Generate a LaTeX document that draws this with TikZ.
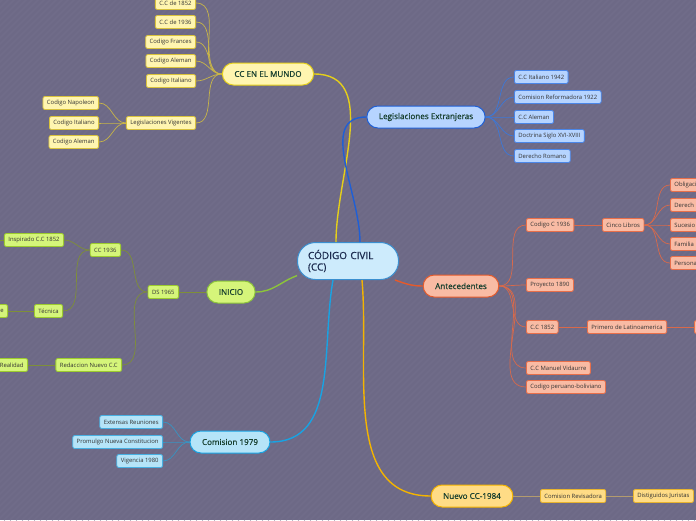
\documentclass[tikz,border=0pt]{standalone}
\usepackage{fontspec}
\setmainfont{Open Sans}
\newfontfamily\branchfont[FakeBold=0.6]{Open Sans}
\usetikzlibrary{positioning}

\definecolor{bg}{HTML}{6D6986}
\definecolor{bgline}{HTML}{706C89}
\definecolor{maintext}{HTML}{173F2E}
\definecolor{leaftext}{HTML}{333333}
\definecolor{rootFill}{HTML}{CDEBFC}
\definecolor{rootDraw}{HTML}{3A8FD0}
\definecolor{rootText}{HTML}{1B2A4E}
% branch colours
\definecolor{yTrunk}{HTML}{E5CF1A}\definecolor{yLine}{HTML}{C8B548}
\definecolor{yFill}{HTML}{FFF5B0}\definecolor{yDraw}{HTML}{D9C23C}
\definecolor{bTrunk}{HTML}{1E5FD6}\definecolor{bLine}{HTML}{3C78D8}
\definecolor{bFill}{HTML}{B6D4FF}\definecolor{bDraw}{HTML}{4A86E8}
\definecolor{oTrunk}{HTML}{E55A2B}\definecolor{oLine}{HTML}{D9694A}
\definecolor{oFill}{HTML}{F9BBA4}\definecolor{oDraw}{HTML}{E86F4A}
\definecolor{gTrunk}{HTML}{8CC43A}\definecolor{gLine}{HTML}{7E8F38}
\definecolor{gFill}{HTML}{D5F57A}\definecolor{gDraw}{HTML}{9CCB2E}
\definecolor{cTrunk}{HTML}{18A3E3}\definecolor{cLine}{HTML}{3894C2}
\definecolor{cFill}{HTML}{B5E4F8}\definecolor{cDraw}{HTML}{48B0E2}
\definecolor{kTrunk}{HTML}{F4B400}\definecolor{kLine}{HTML}{B39B6E}
\definecolor{kFill}{HTML}{FFDC86}\definecolor{kDraw}{HTML}{E8B42E}

\begin{document}
\begin{tikzpicture}[x=1pt,y=-1pt,
  leaf/.style={draw, rounded corners=2pt, line width=0.8pt, inner xsep=4pt, inner ysep=0pt,
    minimum height=13pt, text=leaftext, font=\fontsize{5.9}{6}\selectfont},
  branch/.style={draw, rounded corners=11pt, line width=1pt, inner xsep=12pt, inner ysep=0pt,
    minimum height=22pt, text=maintext, font=\branchfont\fontsize{8.1}{9}\selectfont},
  trunk/.style={line width=1.4pt},
  twig/.style={line width=0.7pt},
  cut/.style={text width=#1, align=left},
  rcut/.style={text width=#1, align=right}]

\path[use as bounding box, fill=bg] (0,0) rectangle (696,520);
\clip (0,0) rectangle (696,520);
\foreach \i in {-560,-554,...,700}
  \draw[bgline, line width=1.5pt] (\i,520) -- ++(540,-540);

% centre
\node (cc) [draw=rootDraw, fill=rootFill, rounded corners=18pt, line width=1pt,
  minimum width=101pt, minimum height=37pt, text width=80pt, align=left, text=rootText,
  font=\branchfont\fontsize{10}{11.5}\selectfont] at (348,261) {CÓDIGO CIVIL\\(CC)};

% CC EN EL MUNDO
\node (mundo) [branch, fill=yFill, draw=yTrunk] at (268,74) {CC EN EL MUNDO};
\node (m1) [leaf, fill=yFill, draw=yDraw, anchor=east] at (196,3) {C.C de 1852};
\node (m2) [leaf, fill=yFill, draw=yDraw, anchor=east] at (196,22) {C.C de 1936};
\node (m3) [leaf, fill=yFill, draw=yDraw, anchor=east] at (196,42) {Codigo Frances};
\node (m4) [leaf, fill=yFill, draw=yDraw, anchor=east] at (196,61) {Codigo Aleman};
\node (m5) [leaf, fill=yFill, draw=yDraw, anchor=east] at (196,81) {Codigo Italiano};
\node (lv) [leaf, fill=yFill, draw=yDraw, anchor=east] at (196,123) {Legislaciones Vigentes};
\node (lv1) [leaf, fill=yFill, draw=yDraw, anchor=east] at (99,103) {Codigo Napoleon};
\node (lv2) [leaf, fill=yFill, draw=yDraw, anchor=east] at (99,123) {Codigo Italiano};
\node (lv3) [leaf, fill=yFill, draw=yDraw, anchor=east] at (99,142) {Codigo Aleman};

\draw[trunk, yTrunk] ([xshift=-12pt]cc.north) to[out=90,in=0] (mundo.east);
\foreach \n in {m1,m2,m3,m4,m5,lv}
  \draw[twig, yLine] (mundo.west) to[out=180,in=0] (\n.east);
\foreach \n in {lv1,lv2,lv3}
  \draw[twig, yLine] (lv.west) to[out=180,in=0] (\n.east);

% Legislaciones Extranjeras
\node (ext) [branch, fill=bFill, draw=bTrunk] at (426,117) {Legislaciones Extranjeras};
\node (e1) [leaf, fill=bFill, draw=bDraw, anchor=west] at (514,77) {C.C Italiano 1942};
\node (e2) [leaf, fill=bFill, draw=bDraw, anchor=west] at (514,97) {Comision Reformadora 1922};
\node (e3) [leaf, fill=bFill, draw=bDraw, anchor=west] at (514,117) {C.C Aleman};
\node (e4) [leaf, fill=bFill, draw=bDraw, anchor=west] at (514,136) {Doctrina Siglo XVI-XVIII};
\node (e5) [leaf, fill=bFill, draw=bDraw, anchor=west] at (514,156) {Derecho Romano};

\draw[trunk, bTrunk] ([xshift=12pt]cc.north) to[out=90,in=180] (ext.west);
\foreach \n in {e1,e2,e3,e4,e5}
  \draw[twig, bLine] (ext.east) to[out=0,in=180] (\n.west);

% Antecedentes
\node (ant) [branch, fill=oFill, draw=oTrunk] at (461,286) {Antecedentes};
\node (a1) [leaf, fill=oFill, draw=oDraw, anchor=west] at (526,225) {Codigo C 1936};
\node (a2) [leaf, fill=oFill, draw=oDraw, anchor=west] at (526,285) {Proyecto 1890};
\node (a3) [leaf, fill=oFill, draw=oDraw, anchor=west] at (526,327) {C.C 1852};
\node (a4) [leaf, fill=oFill, draw=oDraw, anchor=west] at (526,368) {C.C Manuel Vidaurre};
\node (a5) [leaf, fill=oFill, draw=oDraw, anchor=west] at (526,387) {Codigo peruano-boliviano};
\node (libros) [leaf, fill=oFill, draw=oDraw, anchor=west] at (602,225) {Cinco Libros};
\node (l1) [leaf, fill=oFill, draw=oDraw, anchor=west, cut=50pt] at (670,185) {Obligaci};
\node (l2) [leaf, fill=oFill, draw=oDraw, anchor=west, cut=50pt] at (670,205) {Derech};
\node (l3) [leaf, fill=oFill, draw=oDraw, anchor=west, cut=50pt] at (670,225) {Sucesio};
\node (l4) [leaf, fill=oFill, draw=oDraw, anchor=west, cut=50pt] at (670,244) {Familia};
\node (l5) [leaf, fill=oFill, draw=oDraw, anchor=west, cut=50pt] at (670,263) {Persona};
\node (prim) [leaf, fill=oFill, draw=oDraw, anchor=west] at (587,327) {Primero de Latinoamerica};
\node (prim1) [leaf, fill=oFill, draw=oDraw, anchor=west, cut=50pt] at (694,327) {};

\draw[trunk, oTrunk] (cc.-22) to[out=-20,in=180] (ant.west);
\foreach \n in {a1,a2,a3,a4,a5}
  \draw[twig, oLine] (ant.east) to[out=0,in=180] (\n.west);
\draw[twig, oLine] (a1) -- (libros);
\foreach \n in {l1,l2,l3,l4,l5}
  \draw[twig, oLine] (libros.east) to[out=0,in=180] (\n.west);
\draw[twig, oLine] (a3) -- (prim);
\draw[twig, oLine] (prim) -- (prim1);

% INICIO
\node (ini) [branch, fill=gFill, draw=gTrunk] at (231,292) {INICIO};
\node (ds) [leaf, fill=gFill, draw=gDraw, anchor=east] at (179,292) {DS 1965};
\node (c36) [leaf, fill=gFill, draw=gDraw, anchor=east] at (121,250) {CC 1936};
\node (insp) [leaf, fill=gFill, draw=gDraw, anchor=east] at (64,240) {Inspirado C.C 1852};
\node (tec) [leaf, fill=gFill, draw=gDraw, anchor=east] at (63,311) {Técnica};
\node (tec1) [leaf, fill=gFill, draw=gDraw, anchor=east, rcut=40pt] at (8,311) {e};
\node (red) [leaf, fill=gFill, draw=gDraw, anchor=east] at (122,365) {Redaccion Nuevo C.C};
\node (red1) [leaf, fill=gFill, draw=gDraw, anchor=east, rcut=40pt] at (28,365) {Realidad};
\coordinate (insp1) at (-10,240);

\draw[trunk, gTrunk] (cc.196) to[out=200,in=0] (ini.east);
\draw[twig, gLine] (ini) -- (ds);
\draw[twig, gLine] (ds.west) to[out=180,in=0] (c36.east);
\draw[twig, gLine] (ds.west) to[out=180,in=0] (red.east);
\draw[twig, gLine] (c36.west) to[out=180,in=0] (insp.east);
\draw[twig, gLine] (c36.west) to[out=180,in=0] (tec.east);
\draw[twig, gLine] (insp) -- (insp1);
\draw[twig, gLine] (tec) -- (tec1);
\draw[twig, gLine] (red) -- (red1);

% Comision 1979
\node (com) [branch, fill=cFill, draw=cTrunk] at (230,442) {Comision 1979};
\node (k1) [leaf, fill=cFill, draw=cDraw, anchor=east] at (163,422) {Extensas Reuniones};
\node (k2) [leaf, fill=cFill, draw=cDraw, anchor=east] at (163,442) {Promulgo Nueva Constitucion};
\node (k3) [leaf, fill=cFill, draw=cDraw, anchor=east] at (163,461) {Vigencia 1980};

\draw[trunk, cTrunk] ([xshift=-15pt]cc.south) to[out=-100,in=0] (com.east);
\foreach \n in {k1,k2,k3}
  \draw[twig, cLine] (com.west) to[out=180,in=0] (\n.east);

% Nuevo CC-1984
\node (nuevo) [branch, fill=kFill, draw=kTrunk] at (472,496) {Nuevo CC-1984};
\node (rev) [leaf, fill=kFill, draw=kDraw, anchor=west] at (540,496) {Comision Revisadora};
\node (jur) [leaf, fill=kFill, draw=kDraw, anchor=west] at (633,496) {Distiguidos Juristas};

\draw[trunk, kTrunk] ([xshift=14pt]cc.south) to[out=-85,in=180] (nuevo.west);
\draw[twig, kLine] (nuevo) -- (rev);
\draw[twig, kLine] (rev) -- (jur);
\end{tikzpicture}
\end{document}
